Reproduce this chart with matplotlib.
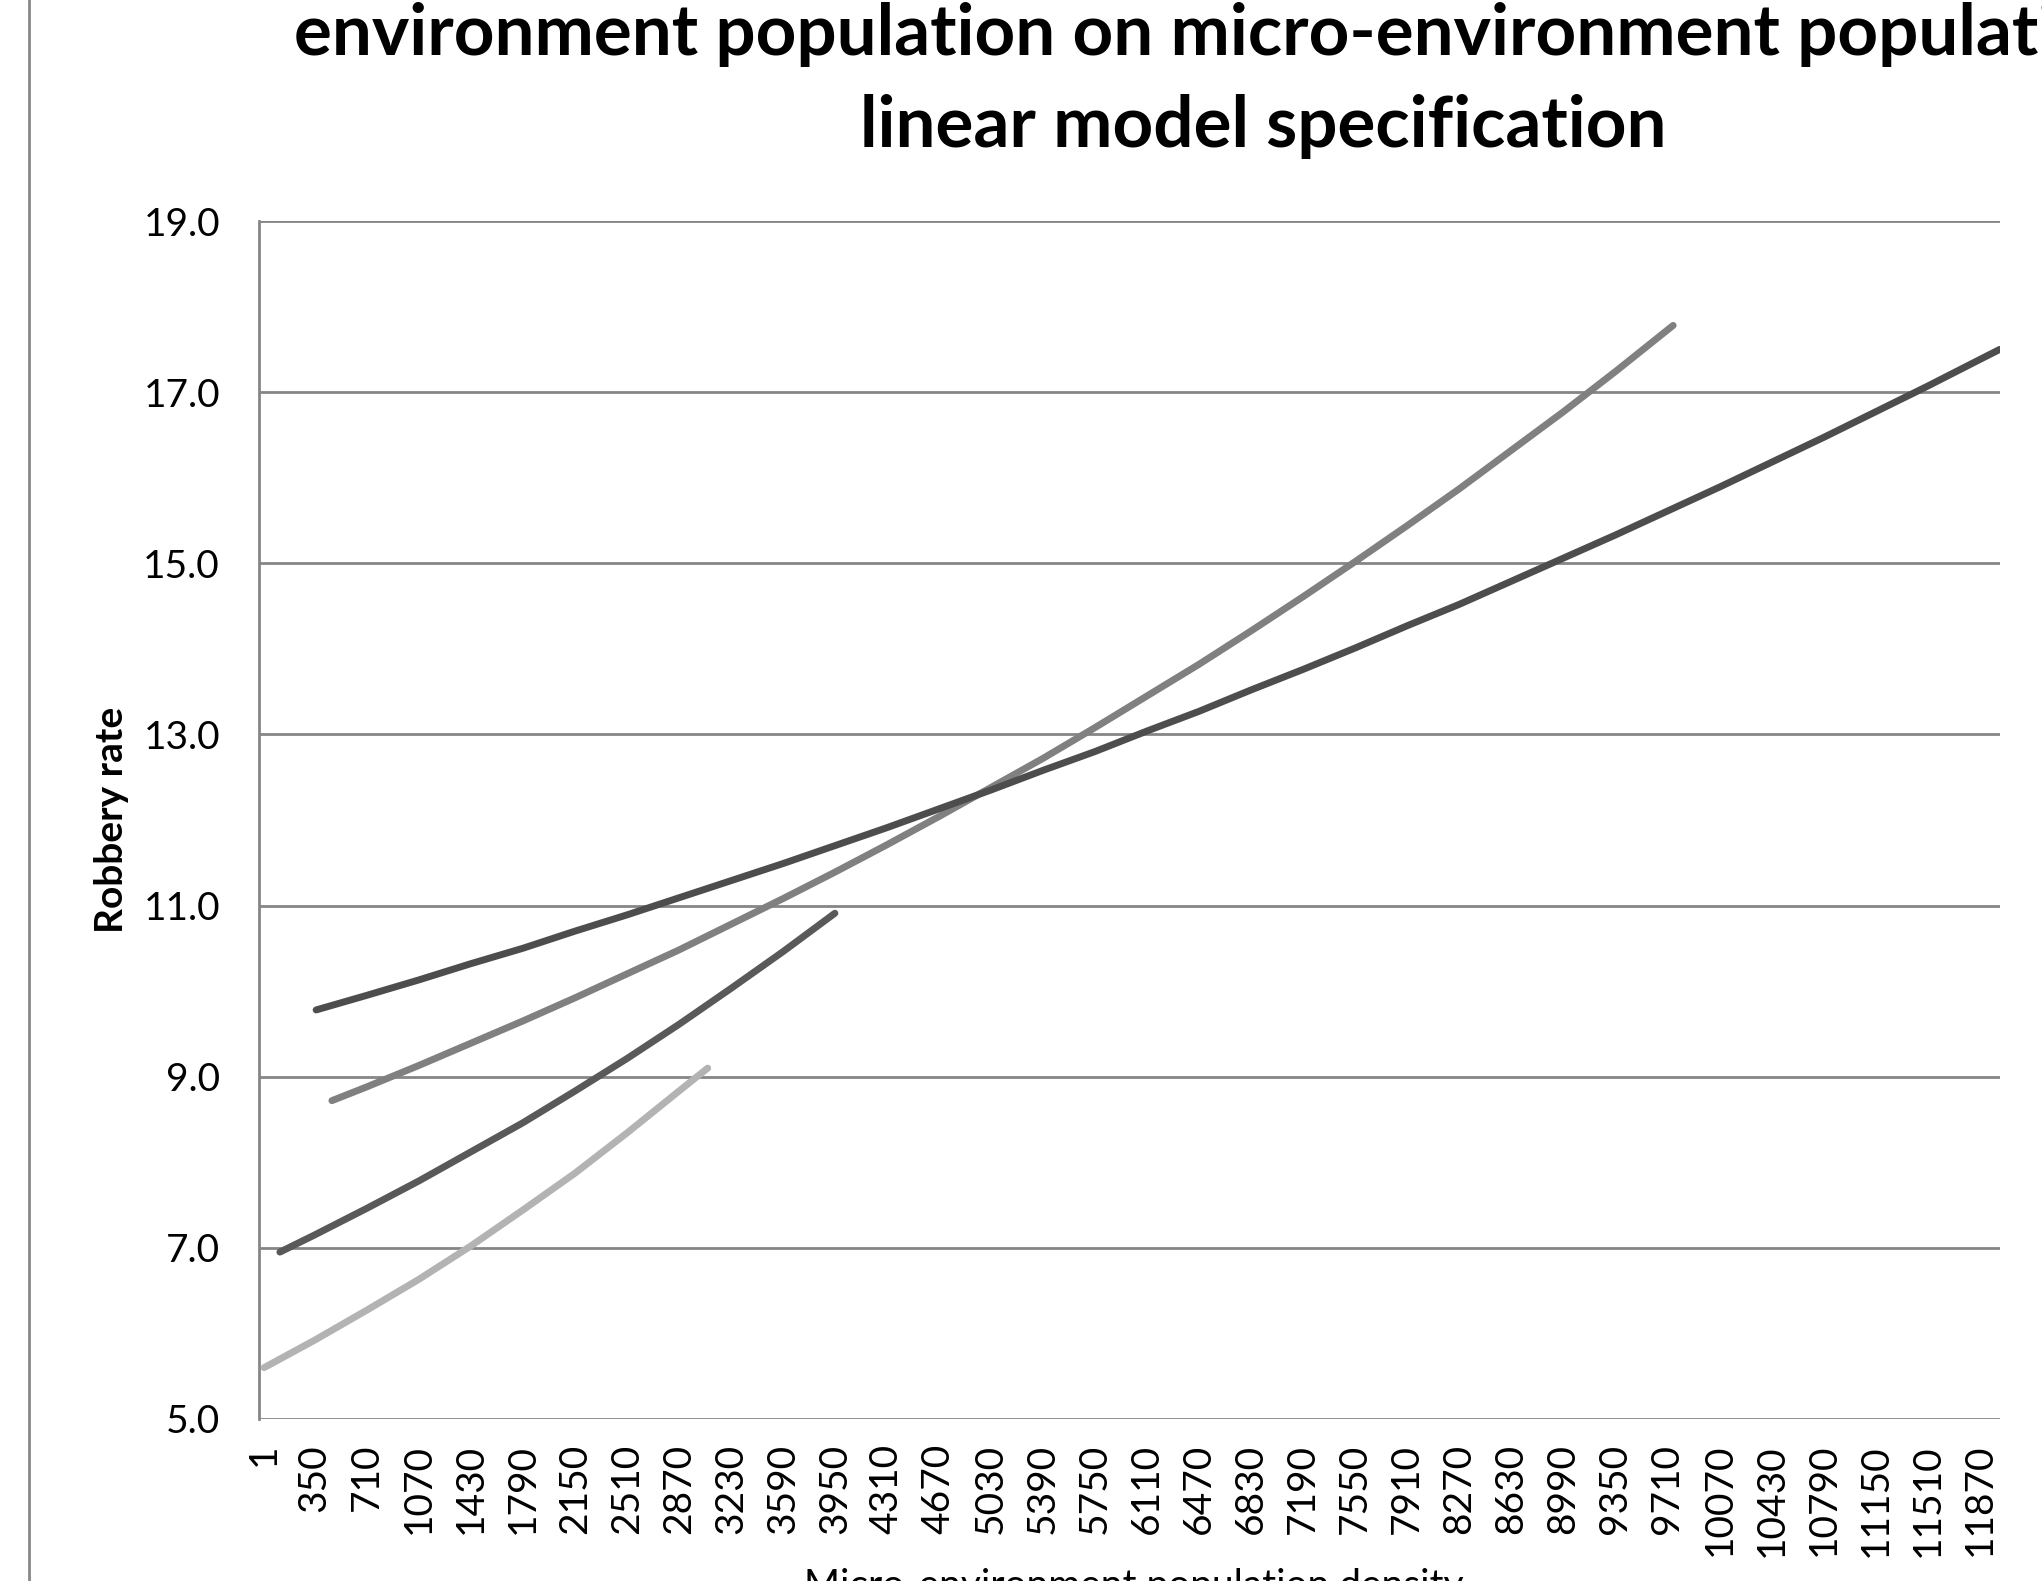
import matplotlib
matplotlib.use("Agg")
import matplotlib.pyplot as plt
from matplotlib.lines import Line2D

plt.rcParams['font.family'] = ['Lato', 'DejaVu Sans']

#   x tick labels (category axis)
tick_labels = [1, 350, 710, 1070, 1430, 1790, 2150, 2510, 2870, 3230, 3590,
               3950, 4310, 4670, 5030, 5390, 5750, 6110, 6470, 6830, 7190,
               7550, 7910, 8270, 8630, 8990, 9350, 9710, 10070, 10430, 10790,
               11150, 11510, 11870]

#   series values
x_top = [361, 710, 1070, 1430, 1790, 2150, 2510, 2870, 3230, 3590, 3950,
         4310, 4670, 5030, 5390, 5750, 6110, 6470, 6830, 7190, 7550, 7910,
         8270, 8630, 8990, 9350, 9710, 10070, 10430, 10790, 11150, 11510,
         11870, 12010]
y_top = [9.78, 9.95, 10.13, 10.32, 10.50, 10.70, 10.89, 11.09, 11.29, 11.49,
         11.70, 11.91, 12.13, 12.35, 12.58, 12.80, 13.04, 13.27, 13.52, 13.76,
         14.01, 14.27, 14.52, 14.79, 15.06, 15.33, 15.61, 15.89, 16.18, 16.47,
         16.77, 17.07, 17.38, 17.50]

x_mid = [470, 710, 1070, 1430, 1790, 2150, 2510, 2870, 3230, 3590, 3950,
         4310, 4670, 5030, 5390, 5750, 6110, 6470, 6830, 7190, 7550, 7910,
         8270, 8630, 8990, 9350, 9750]
y_mid = [8.72, 8.88, 9.13, 9.39, 9.65, 9.92, 10.20, 10.48, 10.78, 11.08,
         11.39, 11.71, 12.04, 12.38, 12.72, 13.08, 13.45, 13.82, 14.21, 14.61,
         15.02, 15.44, 15.87, 16.32, 16.77, 17.24, 17.78]

x_low = [110, 350, 710, 1070, 1430, 1790, 2150, 2510, 2870, 3230, 3590, 3950]
y_low = [6.95, 7.15, 7.46, 7.78, 8.12, 8.46, 8.83, 9.21, 9.61, 10.03, 10.46,
         10.91]

x_light = [1, 350, 710, 1070, 1430, 1790, 2150, 2510, 2870, 3070]
y_light = [5.60, 5.92, 6.27, 6.63, 7.02, 7.44, 7.87, 8.34, 8.83, 9.10]

grid_color = '#868686'

fig = plt.figure(figsize=(20.42, 15.81), dpi=100)
fig.patch.set_facecolor('white')
ax = fig.add_axes([0.1268, 0.1025, 0.8526, 0.7577])

#   gridlines
for y in range(5, 20, 2):
    ax.axhline(y, color=grid_color, lw=2, zorder=1)

line_kw = dict(lw=5, solid_capstyle='round', solid_joinstyle='round', zorder=3)
ax.plot(x_light, y_light, color='#b3b3b3', **line_kw)
ax.plot(x_low, y_low, color='#595959', **line_kw)
ax.plot(x_mid, y_mid, color='#808080', **line_kw)
ax.plot(x_top, y_top, color='#4d4d4d', **line_kw)

ax.set_xlim(-35, 12011)
ax.set_ylim(5, 19)

ax.set_yticks(range(5, 20, 2))
ax.set_yticklabels([f'{v:.1f}' for v in range(5, 20, 2)])
ax.set_xticks(tick_labels)
ax.set_xticklabels([str(t) for t in tick_labels], rotation=90)
ax.tick_params(axis='y', length=0, pad=28, labelsize=28)
ax.tick_params(axis='x', length=0, pad=18, labelsize=28)

for s in ['top', 'right', 'bottom']:
    ax.spines[s].set_visible(False)
ax.spines['left'].set_color(grid_color)
ax.spines['left'].set_linewidth(2)

#   title (cropped like the source)
fig.text(0.144, 0.9652, 'environment population on micro-environment population density:',
         fontsize=51, fontweight='bold', ha='left', va='baseline')
fig.text(0.6185, 0.907, 'linear model specification',
         fontsize=51, fontweight='bold', ha='center', va='baseline')

fig.text(0.0544, 0.4813, 'Robbery rate', fontsize=28, fontweight='bold',
         rotation=90, ha='center', va='center')
fig.text(0.3937, 0.0082, 'Micro-environment population density', fontsize=28,
         ha='left', va='top')

#   chart border at the left
fig.add_artist(Line2D([29 / 2042, 29 / 2042], [0, 1], transform=fig.transFigure,
                      color='#888888', lw=2))

fig.savefig('out.png', dpi=100, facecolor='white')
